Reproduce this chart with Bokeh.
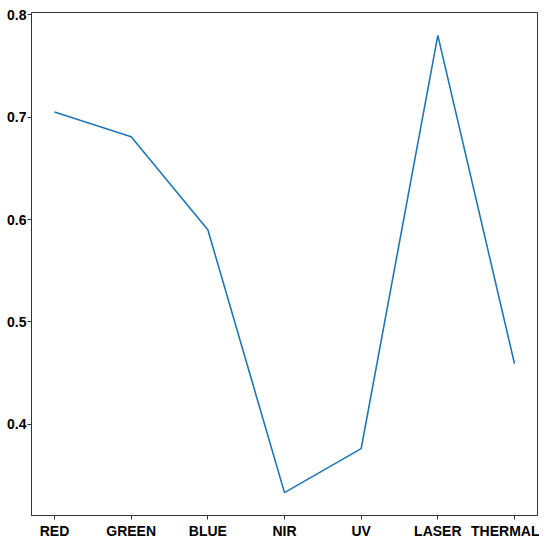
from bokeh.plotting import figure
from bokeh.models import Range1d, FixedTicker
from bokeh.embed import file_html
from bokeh.resources import INLINE

categories = ["RED", "GREEN", "BLUE", "NIR", "UV", "LASER", "THERMAL"]
values = [0.705, 0.681, 0.590, 0.333, 0.376, 0.780, 0.459]
y_ticks = [0.4, 0.5, 0.6, 0.7, 0.8]

x = list(range(len(categories)))
ymin, ymax = min(values), max(values)
pad = (ymax - ymin) * 0.05

p = figure(
    frame_width=506, frame_height=503,
    x_range=Range1d(-0.3, len(categories) - 1 + 0.3),
    y_range=Range1d(ymin - pad, ymax + pad),
    output_backend="svg", toolbar_location=None,
    min_border_left=31, min_border_right=2, min_border_top=12, min_border_bottom=0,
)
p.line(x, values, line_color="#1f77b4", line_width=1.6)

p.xgrid.visible = False
p.ygrid.visible = False
p.outline_line_color = "#333333"
p.outline_line_width = 1
p.background_fill_color = "white"
p.border_fill_color = "white"

p.xaxis.ticker = FixedTicker(ticks=x)
p.xaxis.major_label_overrides = {i: c for i, c in enumerate(categories)}
p.yaxis.ticker = FixedTicker(ticks=y_ticks)

for ax in (p.xaxis, p.yaxis):
    ax.axis_line_color = "#333333"
    ax.major_tick_line_color = "#333333"
    ax.major_tick_out = 4
    ax.major_tick_in = 0
    ax.minor_tick_out = 0
    ax.minor_tick_in = 0
    ax.major_label_text_font = "Liberation Sans"
    ax.major_label_text_font_style = "bold"
    ax.major_label_text_font_size = "14px"
    ax.major_label_text_color = "black"
p.xaxis.major_label_standoff = 3
p.yaxis.major_label_standoff = 1

open("out.html", "w").write(file_html(p, INLINE))
